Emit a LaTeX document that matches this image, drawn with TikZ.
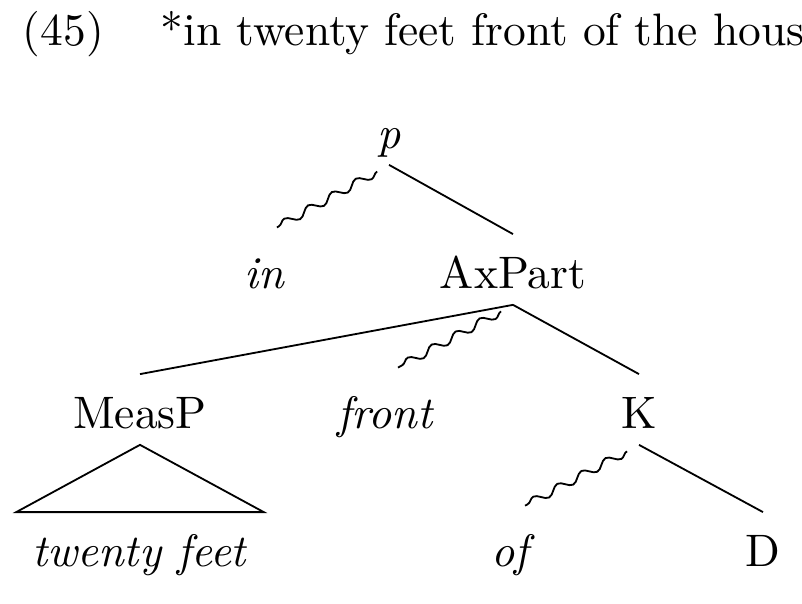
\documentclass[tikz,border=0pt]{standalone}
\usepackage{tikz}
\usetikzlibrary{decorations.pathmorphing,calc}

\tikzset{cat/.style={anchor=base,inner sep=1.5pt,text height=10.15pt,text depth=2pt},
         snakeedge/.style={decorate,decoration={snake,segment length=6pt,amplitude=.9pt}}}

\begin{document}
\begin{tikzpicture}[x=0.21978pt,y=-0.21978pt]
\useasboundingbox (0,0) rectangle (802,603);

\node[anchor=base west,inner sep=0pt] (num) at (22,45) {(45)};
\node[anchor=base west,inner sep=0pt] (ex) at (160,45) {*in twenty feet front of the hous};

\node[cat] (p) at (389,148) {\textit{p}};
\node[cat] (in) at (265,288) {\textit{in}};
\node[cat] (AxPart) at (513,288) {AxPart};
\node[cat] (MeasP) at (140,428) {MeasP};
\node[cat] (front) at (386,428) {\textit{front}};
\node[cat] (K) at (639,428) {K};
\node[cat,minimum width=54pt] (twentyfeet) at (140,566) {\textit{twenty feet}};
\node[cat] (of) at (513,566) {\textit{of}};
\node[cat] (D) at (763,566) {D};

\draw[snakeedge] ($(p.south)!3pt!(in.north)$) -- ($(in.north)!3pt!(p.south)$);
\draw (p.south) -- (AxPart.north);
\draw (AxPart.south) -- (MeasP.north);
\draw[snakeedge] ($(AxPart.south)!3pt!(front.north)$) -- ($(front.north)!3pt!(AxPart.south)$);
\draw (AxPart.south) -- (K.north);
\draw (MeasP.south) -- (twentyfeet.north west) -- (twentyfeet.north east) -- cycle;
\draw[snakeedge] ($(K.south)!3pt!(of.north)$) -- ($(of.north)!3pt!(K.south)$);
\draw (K.south) -- (D.north);
\end{tikzpicture}
\end{document}
